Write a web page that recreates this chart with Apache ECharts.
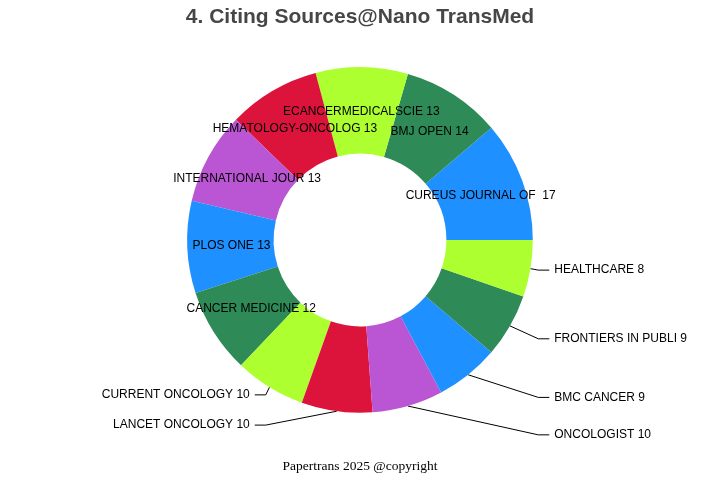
<!DOCTYPE html>
<html>
<head>
<meta charset="utf-8">
<script src="https://cdn.jsdelivr.net/npm/echarts@6/dist/echarts.min.js"></script>
<style>html,body{margin:0;padding:0;background:#fff;}#c{width:720px;height:480px;}</style>
</head>
<body>
<div id="c"></div>
<script>
const categories = ["CUREUS JOURNAL OF ", "BMJ OPEN", "ECANCERMEDICALSCIE", "HEMATOLOGY-ONCOLOG", "INTERNATIONAL JOUR", "PLOS ONE", "CANCER MEDICINE", "CURRENT ONCOLOGY", "LANCET ONCOLOGY", "ONCOLOGIST", "BMC CANCER", "FRONTIERS IN PUBLI", "HEALTHCARE"];
const values = [17, 14, 13, 13, 13, 13, 12, 10, 10, 10, 9, 9, 8];
const palette = ["#1E90FF", "#2E8B57", "#ADFF2F", "#DC143C", "#BA55D3"];
// label line first-segment lengths (style only), one per category
const labelLineLengths = [10, 10, 10, 10, 10, 10, 10, 9, 14, 30, 29, 26, 9];

const chart = echarts.init(document.getElementById('c'), null, {renderer: 'canvas'});
const isInside = (i) => values[i] > 10;
const data = categories.map((n, i) => {
  const item = {name: n, value: values[i], labelLine: {length: labelLineLengths[i]}};
  if (isInside(i)) {
    item.label = {position: 'inside'};
    item.labelLine = {show: false};
  }
  return item;
});
chart.setOption({
  animation: false,
  color: palette,
  title: [{
    text: '4. Citing Sources@Nano TransMed',
    left: 'center',
    top: 2,
    textStyle: {fontFamily: 'Liberation Sans', fontSize: 21, fontWeight: 'bold', color: '#464646'}
  }, {
    text: 'Papertrans 2025 @copyright',
    left: 'center',
    bottom: 2,
    textStyle: {fontFamily: 'Liberation Serif', fontSize: 13.5, fontWeight: 'normal', color: '#000'}
  }],
  series: [{
    type: 'pie',
    radius: ['36%', '72%'],
    center: ['50%', '50%'],
    startAngle: 0,
    clockwise: false,
    avoidLabelOverlap: true,
    itemStyle: {borderWidth: 0},
    label: {
      show: true,
      position: 'outer',
      alignTo: 'labelLine',
      formatter: '{b} {c}',
      color: '#000',
      fontFamily: 'Liberation Sans',
      fontSize: 12
    },
    labelLine: {show: true, length: 10, length2: 10, lineStyle: {color: '#000', width: 1}},
    labelLayout: function (p) {
      if (isInside(p.dataIndex)) {
        // pull ring labels slightly toward the ring's middle radius
        const cx = chart.getWidth() / 2, cy = chart.getHeight() / 2;
        const lx = p.labelRect.x + p.labelRect.width / 2;
        const ly = p.labelRect.y + p.labelRect.height / 2;
        const dx = lx - cx, dy = ly - cy, d = Math.sqrt(dx * dx + dy * dy);
        const k = (d - 4) / d;
        return {x: cx + dx * k, y: cy + dy * k};
      }
      if (!p.labelLinePoints) return {};
      const pts = p.labelLinePoints.map(q => q.slice());
      const dir = pts[2][0] >= pts[0][0] ? 1 : -1;
      pts[1][0] = pts[2][0] - dir * 11;
      return {labelLinePoints: pts};
    },
    emphasis: {disabled: true},
    data: data
  }]
});
</script>
</body>
</html>
